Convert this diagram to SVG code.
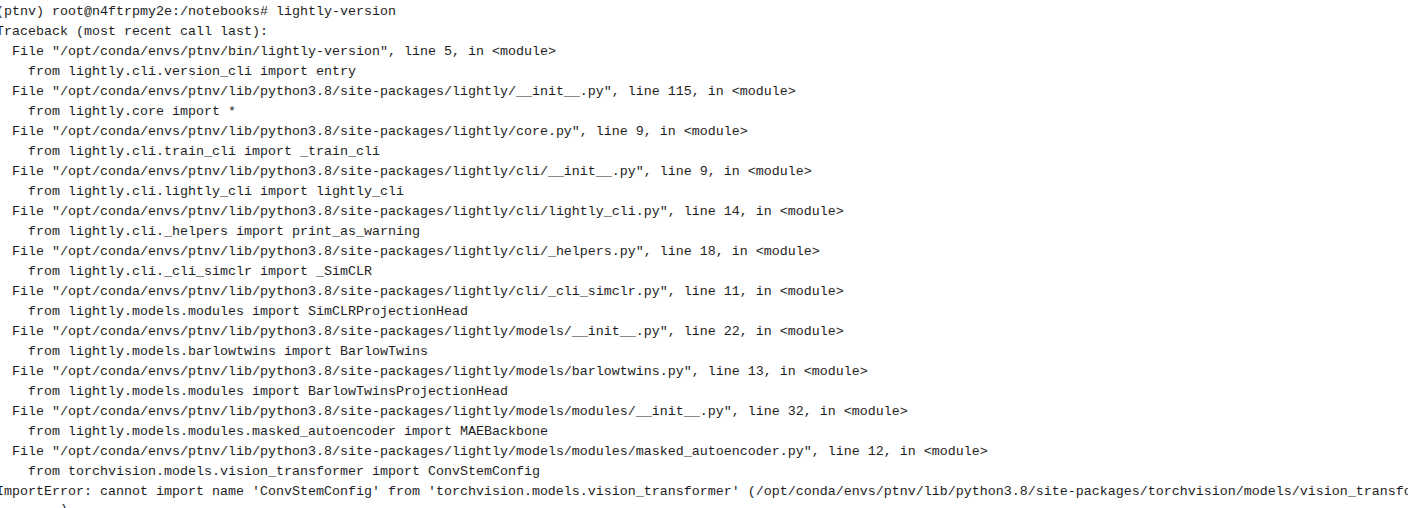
<svg xmlns="http://www.w3.org/2000/svg" width="1408" height="508" viewBox="0 0 1408 508">
<style>text{font-family:"Liberation Mono","DejaVu Sans Mono",monospace;font-size:13.33px;fill:#1e1e1e;white-space:pre}</style>
<rect width="1408" height="508" fill="#fff"/>
<text x="-4" y="15">(ptnv) root@n4ftrpmy2e:/notebooks# lightly-version</text>
<text x="-4" y="35">Traceback (most recent call last):</text>
<text x="12" y="55">File "/opt/conda/envs/ptnv/bin/lightly-version", line 5, in &lt;module&gt;</text>
<text x="28" y="75">from lightly.cli.version_cli import entry</text>
<text x="12" y="95">File "/opt/conda/envs/ptnv/lib/python3.8/site-packages/lightly/__init__.py", line 115, in &lt;module&gt;</text>
<text x="28" y="115">from lightly.core import *</text>
<text x="12" y="135">File "/opt/conda/envs/ptnv/lib/python3.8/site-packages/lightly/core.py", line 9, in &lt;module&gt;</text>
<text x="28" y="155">from lightly.cli.train_cli import _train_cli</text>
<text x="12" y="175">File "/opt/conda/envs/ptnv/lib/python3.8/site-packages/lightly/cli/__init__.py", line 9, in &lt;module&gt;</text>
<text x="28" y="195">from lightly.cli.lightly_cli import lightly_cli</text>
<text x="12" y="215">File "/opt/conda/envs/ptnv/lib/python3.8/site-packages/lightly/cli/lightly_cli.py", line 14, in &lt;module&gt;</text>
<text x="28" y="235">from lightly.cli._helpers import print_as_warning</text>
<text x="12" y="255">File "/opt/conda/envs/ptnv/lib/python3.8/site-packages/lightly/cli/_helpers.py", line 18, in &lt;module&gt;</text>
<text x="28" y="275">from lightly.cli._cli_simclr import _SimCLR</text>
<text x="12" y="295">File "/opt/conda/envs/ptnv/lib/python3.8/site-packages/lightly/cli/_cli_simclr.py", line 11, in &lt;module&gt;</text>
<text x="28" y="315">from lightly.models.modules import SimCLRProjectionHead</text>
<text x="12" y="335">File "/opt/conda/envs/ptnv/lib/python3.8/site-packages/lightly/models/__init__.py", line 22, in &lt;module&gt;</text>
<text x="28" y="355">from lightly.models.barlowtwins import BarlowTwins</text>
<text x="12" y="375">File "/opt/conda/envs/ptnv/lib/python3.8/site-packages/lightly/models/barlowtwins.py", line 13, in &lt;module&gt;</text>
<text x="28" y="395">from lightly.models.modules import BarlowTwinsProjectionHead</text>
<text x="12" y="415">File "/opt/conda/envs/ptnv/lib/python3.8/site-packages/lightly/models/modules/__init__.py", line 32, in &lt;module&gt;</text>
<text x="28" y="435">from lightly.models.modules.masked_autoencoder import MAEBackbone</text>
<text x="12" y="455">File "/opt/conda/envs/ptnv/lib/python3.8/site-packages/lightly/models/modules/masked_autoencoder.py", line 12, in &lt;module&gt;</text>
<text x="28" y="475">from torchvision.models.vision_transformer import ConvStemConfig</text>
<text x="-4" y="495">ImportError: cannot import name 'ConvStemConfig' from 'torchvision.models.vision_transformer' (/opt/conda/envs/ptnv/lib/python3.8/site-packages/torchvision/models/vision_transformer.py)</text>
<text x="60" y="513">)</text>
</svg>
